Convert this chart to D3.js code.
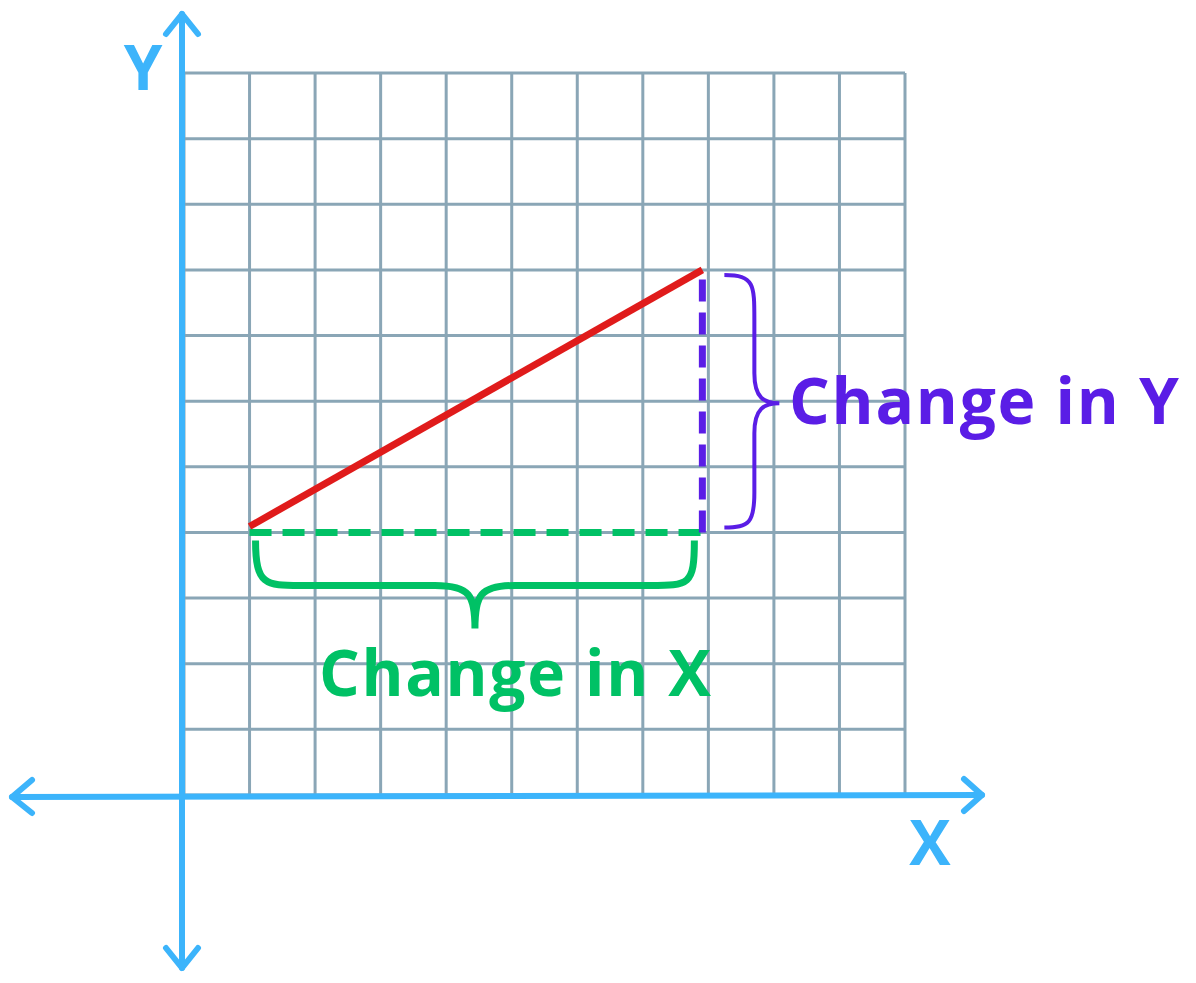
<!DOCTYPE html>
<html><head><meta charset="utf-8">
<script src="https://cdn.jsdelivr.net/npm/d3@7"></script>
<style>body{margin:0;background:#fff}</style></head>
<body><svg id="c" width="1196" height="983"></svg>
<script>
const gridTicks = [0,1,2,3,4,5,6,7,8,9,10,11];
const segStart = [1,4];
const segEnd = [8,8];
const labelX = "Change in X", labelY = "Change in Y";

const svg = d3.select("#c");
const x = d3.scaleLinear().domain([0,11]).range([184,905]);
const y = d3.scaleLinear().domain([0,11]).range([795,73]);
const gridC = "#8aa6b6", axisC = "#3cb4fb", red = "#e01b1b", green = "#00c165", purple = "#5a1de6";

const g = svg.append("g");
g.selectAll(".v").data(gridTicks).join("line").attr("x1",d=>x(d)).attr("x2",d=>x(d))
 .attr("y1",y(0)).attr("y2",y(11)).attr("stroke",gridC).attr("stroke-width",3);
g.selectAll(".h").data(gridTicks).join("line").attr("y1",d=>y(d)).attr("y2",d=>y(d))
 .attr("x1",x(0)).attr("x2",x(11)).attr("stroke",gridC).attr("stroke-width",3);

const ax = svg.append("g").attr("stroke",axisC).attr("stroke-width",6).attr("fill","none").attr("stroke-linecap","round").attr("stroke-linejoin","round");
ax.append("line").attr("x1",12).attr("y1",797).attr("x2",982).attr("y2",795);
ax.append("line").attr("x1",182).attr("y1",14).attr("x2",182).attr("y2",968);
ax.append("path").attr("d","M32,780 L12,797 L32,813");
ax.append("path").attr("d","M964,779 L982,795 L964,811");
ax.append("path").attr("d","M166,34 L182,14 L198,34");
ax.append("path").attr("d","M166,948 L182,968 L198,948");
svg.append("text").attr("x",143).attr("y",90).attr("text-anchor","middle").attr("font-family","Open Sans").attr("font-weight",700).attr("font-size",62).attr("fill",axisC).text("Y");
svg.append("text").attr("x",930).attr("y",865).attr("text-anchor","middle").attr("font-family","Open Sans").attr("font-weight",700).attr("font-size",62).attr("fill",axisC).text("X");

svg.append("line").attr("x1",x(segStart[0])).attr("y1",y(segStart[1])).attr("x2",x(segEnd[0])-6).attr("y2",y(segStart[1]))
 .attr("stroke",green).attr("stroke-width",7).attr("stroke-dasharray","22,11");
svg.append("line").attr("x1",x(segEnd[0])-6).attr("y1",y(segStart[1])).attr("x2",x(segEnd[0])-6).attr("y2",y(segEnd[1]))
 .attr("stroke",purple).attr("stroke-width",7).attr("stroke-dasharray","22,11");
svg.append("line").attr("x1",x(segStart[0])).attr("y1",y(segStart[1])-6).attr("x2",x(segEnd[0])-6).attr("y2",y(segEnd[1]))
 .attr("stroke",red).attr("stroke-width",7);

const bx0 = x(segStart[0])+6, bx1 = x(segEnd[0])-14, by = y(segStart[1])+8, mid=(bx0+bx1)/2;
svg.append("path").attr("fill","none").attr("stroke",green).attr("stroke-width",7)
 .attr("d",`M${bx0},${by} C${bx0},${by+45} ${bx0+10},${by+45} ${bx0+45},${by+45} L${mid-40},${by+45} C${mid-5},${by+45} ${mid},${by+55} ${mid},${by+88} C${mid},${by+55} ${mid+5},${by+45} ${mid+40},${by+45} L${bx1-45},${by+45} C${bx1-5},${by+45} ${bx1},${by+45} ${bx1},${by}`);
const vx = x(segEnd[0])+16, vy0 = y(segEnd[1])+5, vy1 = y(segStart[1])-5, vm=(vy0+vy1)/2+2;
svg.append("path").attr("fill","none").attr("stroke",purple).attr("stroke-width",4)
 .attr("d",`M${vx},${vy0} C${vx+30},${vy0} ${vx+30},${vy0+10} ${vx+30},${vy0+45} L${vx+30},${vm-30} C${vx+30},${vm-5} ${vx+40},${vm} ${vx+55},${vm} C${vx+40},${vm} ${vx+30},${vm+5} ${vx+30},${vm+30} L${vx+30},${vy1-35} C${vx+30},${vy1-5} ${vx+25},${vy1} ${vx},${vy1}`);

svg.append("text").attr("x",789).attr("y",424).attr("font-family","Open Sans").attr("font-weight",700).attr("font-size",64).attr("fill",purple).attr("textLength",390).text(labelY);
svg.append("text").attr("x",319).attr("y",696).attr("font-family","Open Sans").attr("font-weight",700).attr("font-size",64).attr("fill",green).attr("textLength",392).text(labelX);
</script></body></html>
